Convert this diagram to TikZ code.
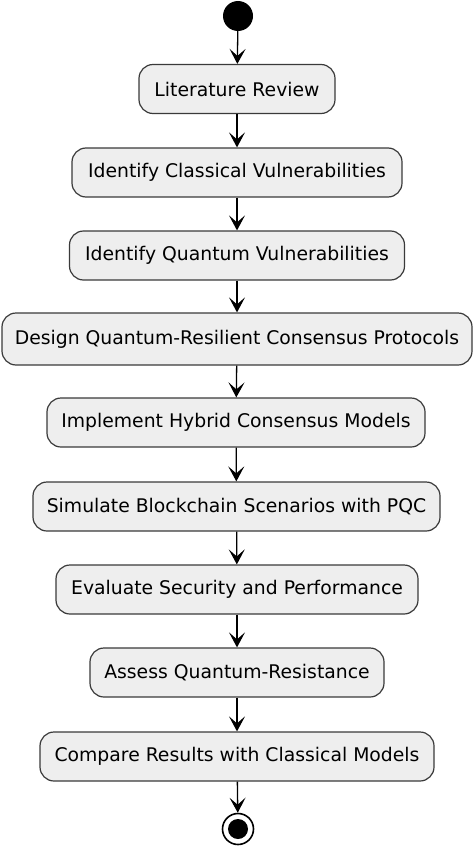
\documentclass[tikz,border=0pt]{standalone}
\usepackage{fontspec}
\setmainfont{DejaVu Sans}
\usetikzlibrary{arrows.meta}
\definecolor{boxfill}{HTML}{EEEEEE}
\definecolor{boxline}{HTML}{3A3A3A}
\begin{document}
\begin{tikzpicture}[x=1pt,y=-1pt,
  act/.style={draw=boxline,line width=1.2pt,fill=boxfill,rounded corners=14pt,minimum height=49pt,inner sep=0pt,font=\fontsize{18.8}{22}\selectfont,text=black},
  flow/.style={draw=black,line width=1.3pt,-{Stealth[length=15pt,width=16pt,inset=7pt]}}]
\useasboundingbox (0,0) rectangle (474,851);
\node[circle,fill=black,minimum size=30pt,inner sep=0pt] (start) at (238,16) {};
\node[act,minimum width=196pt] (a1) at (237,89) {Literature Review};
\node[act,minimum width=330pt] (a2) at (237,172.5) {Identify Classical Vulnerabilities};
\node[act,minimum width=335pt] (a3) at (237,255.5) {Identify Quantum Vulnerabilities};
\node[act,minimum width=470pt,minimum height=52pt] (a4) at (237,339) {Design Quantum-Resilient Consensus Protocols};
\node[act,minimum width=378pt] (a5) at (236,422.5) {Implement Hybrid Consensus Models};
\node[act,minimum width=407pt] (a6) at (236.5,506.5) {Simulate Blockchain Scenarios with PQC};
\node[act,minimum width=362pt] (a7) at (237,589.5) {Evaluate Security and Performance};
\node[act,minimum width=294pt] (a8) at (237,672.5) {Assess Quantum-Resistance};
\node[act,minimum width=394pt] (a9) at (237,756.5) {Compare Results with Classical Models};
\node[circle,draw=black,line width=1.6pt,fill=white,minimum size=31pt,inner sep=0pt] (end) at (238,829) {};
\node[circle,fill=black,minimum size=20pt,inner sep=0pt] (endin) at (end.center) {};
\draw[flow] (start) -- (a1);
\draw[flow] (a1) -- (a2);
\draw[flow] (a2) -- (a3);
\draw[flow] (a3) -- (a4);
\draw[flow] (a4) -- (a5);
\draw[flow] (a5) -- (a6);
\draw[flow] (a6) -- (a7);
\draw[flow] (a7) -- (a8);
\draw[flow] (a8) -- (a9);
\draw[flow] (a9) -- (end);
\end{tikzpicture}
\end{document}
